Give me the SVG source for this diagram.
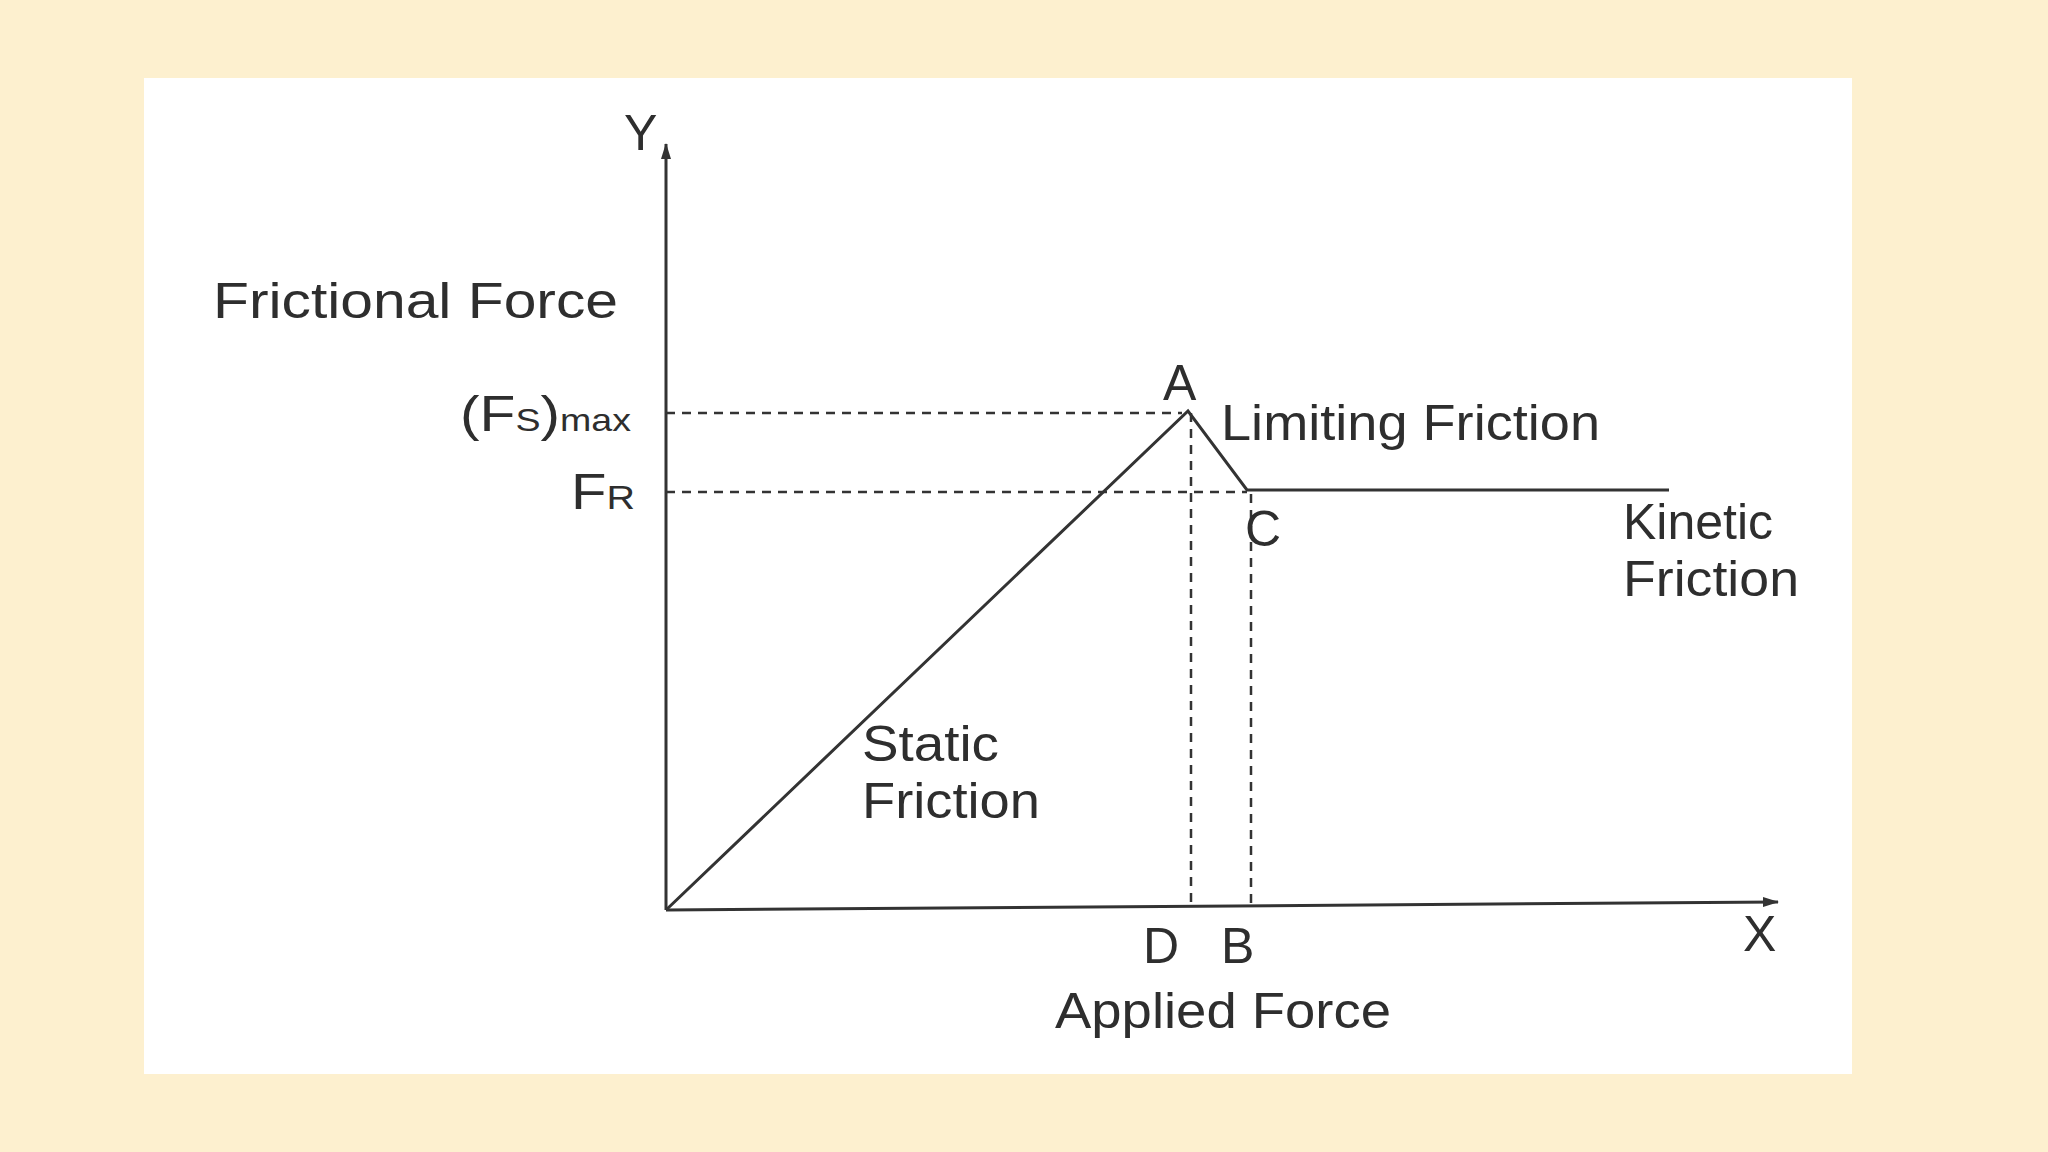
<svg xmlns="http://www.w3.org/2000/svg" width="2048" height="1152" viewBox="0 0 2048 1152">
<style>
text{font-family:"Liberation Sans",Arial,sans-serif;fill:#2e2e2e;font-size:50px}
.ln{stroke:#333;stroke-width:3;fill:none}
.ds{stroke:#333;stroke-width:2.5;fill:none;stroke-dasharray:9 7}
</style>
<defs>
<marker id="ah" markerWidth="16" markerHeight="12" refX="15" refY="6" orient="auto" markerUnits="userSpaceOnUse" viewBox="0 0 16 12">
<path d="M0,1 L16,6 L0,11 z" fill="#333"/>
</marker>
</defs>
<rect width="2048" height="1152" fill="#FDF0CF"/>
<rect x="144" y="78" width="1708" height="996" fill="#fff"/>
<g id="connectors">
<line class="ln" x1="666" y1="910" x2="666" y2="144" marker-end="url(#ah)"/>
<line class="ln" x1="666" y1="910" x2="1778" y2="902" marker-end="url(#ah)"/>
<polyline class="ln" points="666,910 1188,411 1247,490 1669,490"/>
<line class="ds" x1="666" y1="413" x2="1182" y2="413"/>
<line class="ds" x1="666" y1="492" x2="1247" y2="492"/>
<line class="ds" x1="1191" y1="413" x2="1191" y2="902"/>
<line class="ds" x1="1251" y1="494" x2="1251" y2="904"/>
</g>
<g id="labels">
<text x="624" y="150" font-size="34">Y</text>
<text x="213" y="318" font-size="52" textLength="405" lengthAdjust="spacingAndGlyphs">Frictional Force</text>
<text x="1163" y="400" font-size="52">A</text>
<text x="460" y="431" font-size="54" textLength="171" lengthAdjust="spacingAndGlyphs">(F<tspan font-size="32">S</tspan>)<tspan font-size="32">max</tspan></text>
<text x="571" y="509" font-size="54" textLength="64" lengthAdjust="spacingAndGlyphs">F<tspan font-size="34">R</tspan></text>
<text x="1221" y="440" textLength="379" lengthAdjust="spacingAndGlyphs">Limiting Friction</text>
<text x="1245" y="546" font-size="52">C</text>
<text x="1623" y="539">Kinetic</text>
<text x="1623" y="596" textLength="176" lengthAdjust="spacingAndGlyphs">Friction</text>
<text x="862" y="761" textLength="137" lengthAdjust="spacingAndGlyphs">Static</text>
<text x="862" y="818" textLength="178" lengthAdjust="spacingAndGlyphs">Friction</text>
<text x="1143" y="963" font-size="52">D</text>
<text x="1221" y="963" font-size="52">B</text>
<text x="1743" y="951" font-size="38">X</text>
<text x="1055" y="1028" textLength="336" lengthAdjust="spacingAndGlyphs">Applied Force</text>
</g>
</svg>
